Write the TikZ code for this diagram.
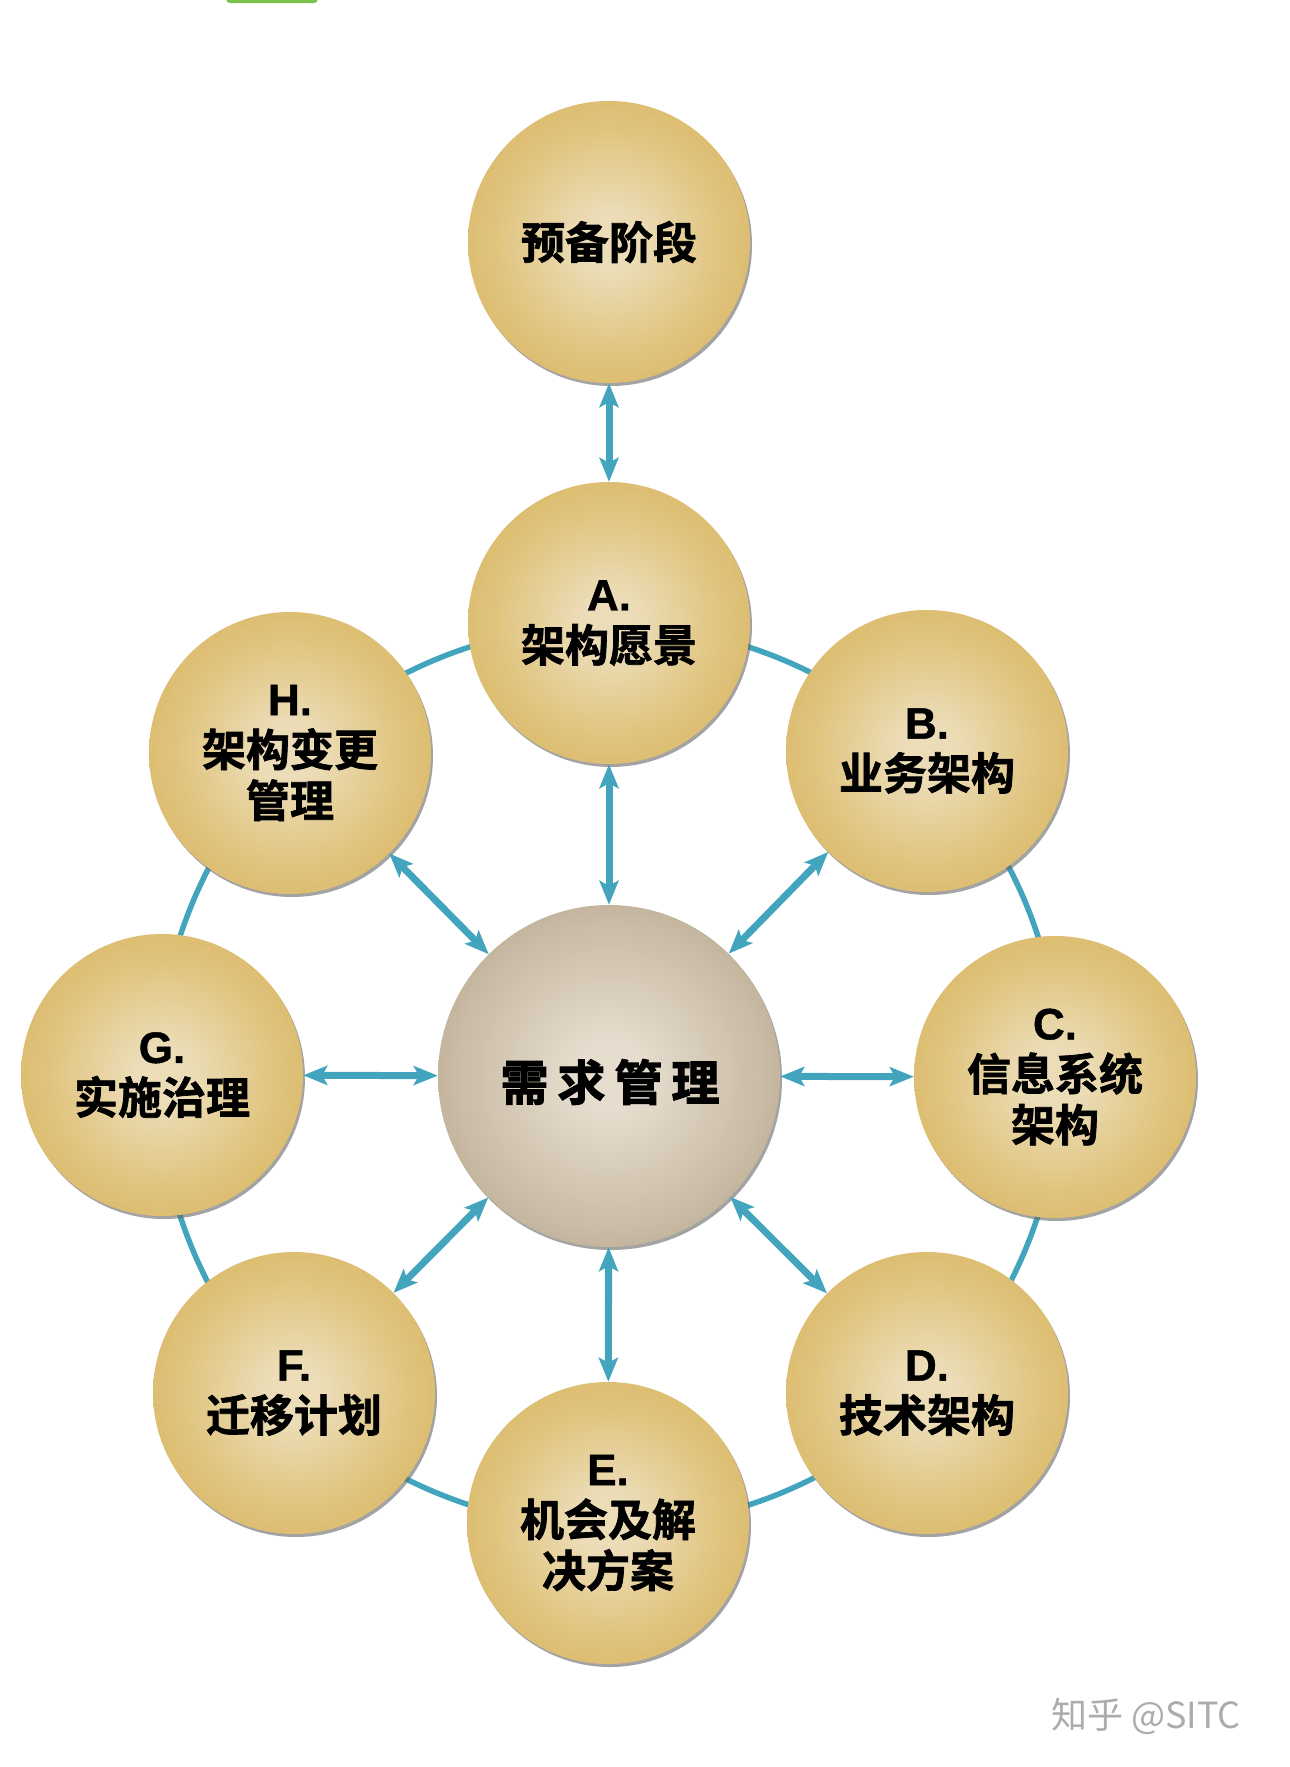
\documentclass[tikz,border=0pt]{standalone}
\usepackage{fontspec}
\setmainfont{Liberation Sans}
\newfontfamily\cjk{Noto Sans CJK SC}
\newfontfamily\cjkh{Noto Sans CJK SC Bold}[FakeBold=1.6]
\newfontfamily\cjkhub{Noto Sans CJK SC Bold}[FakeBold=2.4]
\newfontfamily\latb{Liberation Sans Bold}[FakeBold=1]
\usetikzlibrary{arrows.meta,shadows,backgrounds}
\definecolor{goldc}{RGB}{236,221,184}
\definecolor{goldm}{RGB}{224,196,126}
\definecolor{goldo}{RGB}{214,178,92}
\definecolor{taupc}{RGB}{230,221,206}
\definecolor{taupm}{RGB}{202,188,166}
\definecolor{taupo}{RGB}{172,155,131}
\definecolor{tealc}{RGB}{66,164,189}
\definecolor{leafc}{RGB}{125,194,75}
\definecolor{markc}{RGB}{172,172,172}
\pgfdeclareradialshading{goldball}{\pgfpoint{0bp}{0bp}}{color(0bp)=(goldc); color(5bp)=(goldc); color(20bp)=(goldm); color(34bp)=(goldo); color(50bp)=(goldo!90!black)}
\pgfdeclareradialshading{taupball}{\pgfpoint{0bp}{0bp}}{color(0bp)=(taupc); color(5bp)=(taupc); color(22bp)=(taupm); color(36bp)=(taupo); color(50bp)=(taupo!90!black)}
\tikzset{
  ball/.style={circle, minimum size=282pt, inner sep=0pt, align=center,
    font=\fontsize{44}{51}\selectfont, text=black, shading=goldball,
    drop shadow={shadow xshift=2pt, shadow yshift=-3pt, fill=black!60, opacity=0.6}},
  hubball/.style={ball, minimum size=342pt, shading=taupball},
  link/.style={draw=tealc, line width=7pt, {Stealth[length=24pt,width=19pt,inset=5pt,fill=tealc]}-{Stealth[length=24pt,width=19pt,inset=5pt,fill=tealc]}},
  ringline/.style={draw=tealc, line width=5.5pt}
}
\begin{document}
\begin{tikzpicture}[x=1pt,y=-1pt]
\useasboundingbox (0,0) rectangle (1290,1767);
% nodes
\node[ball] (prep) at (609,242) {{\cjkh 预备阶段}};
\node[ball] (A) at (609,623) {{\latb A.}\\{\cjkh 架构愿景}};
\node[ball] (B) at (927,751) {{\latb B.}\\{\cjkh 业务架构}};
\node[ball] (C) at (1055,1077) {{\latb C.}\\{\cjkh 信息系统}\\{\cjkh 架构}};
\node[ball] (D) at (927,1393) {{\latb D.}\\{\cjkh 技术架构}};
\node[ball] (E) at (608,1523) {{\latb E.}\\{\cjkh 机会及解}\\{\cjkh 决方案}};
\node[ball] (F) at (294,1393) {{\latb F.}\\{\cjkh 迁移计划}};
\node[ball] (G) at (162,1075) {{\latb G.}\\{\cjkh 实施治理}};
\node[ball] (H) at (290,753) {{\latb H.}\\{\cjkh 架构变更}\\{\cjkh 管理}};
\node[hubball] (ctr) at (609,1076) {};
\node[font=\fontsize{48}{52}\selectfont, inner sep=0pt] (ctrtext) at (610,1082)
  {{\cjkhub 需\hspace{9pt}求\hspace{9pt}管\hspace{9pt}理}};
% watermark
\node[anchor=base west, inner sep=0pt, text=markc, font=\cjk\fontsize{36}{40}\selectfont] (wm) at (1051,1728) {知乎 @SITC};
% arrows
\draw[link] (prep) -- (A);
\foreach \n in {A,B,C,D,E,F,G,H}{\draw[link] (\n) -- (ctr);}
% background
\begin{scope}[on background layer]
\fill[white] (0,0) rectangle (1290,1767);
\fill[leafc, rounded corners=4pt] (226,-12) rectangle (318,3);
\draw[ringline] (ctr.center) circle[radius=451];
\end{scope}
\end{tikzpicture}
\end{document}
